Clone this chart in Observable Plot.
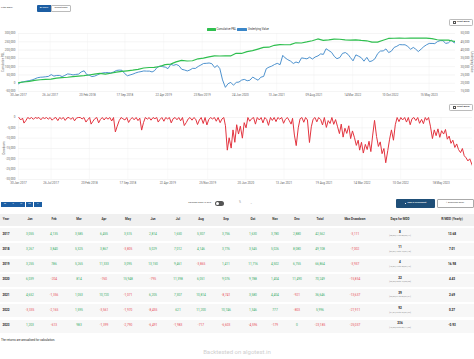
<!DOCTYPE html>
<html><head><meta charset="utf-8">
<script src="https://cdn.jsdelivr.net/npm/d3@7"></script>
<script src="https://cdn.jsdelivr.net/npm/@observablehq/plot@0.6"></script>
<style>
html,body{margin:0;padding:0;background:#fff;}
body{width:474px;height:359px;position:relative;overflow:hidden;font-family:Roboto,"Liberation Sans",sans-serif;color:#333;}
.a{position:absolute;white-space:nowrap;line-height:1;}
.btn{position:absolute;box-sizing:border-box;display:flex;align-items:center;justify-content:center;white-space:nowrap;line-height:1;}
</style></head><body>
<div id="root"></div>
<script>
// ---------- DATA ----------
const years = [2017, 2018, 2019, 2020, 2021, 2022, 2023];
const monthNames = ["Jan","Feb","Mar","Apr","May","Jun","Jul","Aug","Sep","Oct","Nov","Dec"];
const pnl2017 = [3055, 4135, 3585, 6455, 3515, 2814, 1650, 5307, 3756, 1630, 3780, 2880];
const pnl2018 = [3267, 3840, 5325, 3867, -3805, 5029, 7012, 4146, 3776, 3545, 5026, 8080];
const pnl2019 = [3255, 786, 5265, 11333, 3095, 13150, 9461, -3865, 1411, 11716, 4502, 6755];
const pnl2020 = [6039, -204, 814, -760, 15948, -795, 11398, 6051, 9076, 9788, 1404, 11490];
const pnl2021 = [4652, -1356, 1053, 10720, -1071, 6205, 7307, 10814, -8741, 3580, 4404, -921];
const pnl2022 = [-3335, -2165, 1595, -3561, -1970, -8455, 621, 11200, 10746, 1346, 777, -803];
const pnl2023 = [1203, -613, 983, -1399, -2790, -6491, -1983, -717, -6603, -4596, -179, 0];
const yearTotals = [42562, 49108, 66864, 70249, 36646, 5996, -23185];
const maxDrawdowns = [-3111, -7002, -3937, -15854, -13637, -21911, -25037];
const daysForMDD = [8, 11, 4, 22, 39, 92, 236];
const mddRanges = ["[28/02/17 to 08/03/17]","[02/07/18 to 13/07/18]","[16/07/19 to 20/07/19]","[26/02/20 to 19/03/20]","[23/02/21 to 02/04/21]","[21/04/22 to 22/07/22]","[16/03/23 to 06/11/23]"];
const rOverMDD = ["13.68","7.01","16.98","4.43","2.69","0.27","-0.93"];

// Underlying value (Bank Nifty), 1st and 16th of each month from Jan 2017
const underlying = [
18200,18700,19800,20700,20900,21300,21600,22000,22600,23300,23600,23700,23900,24100,25200,24300,24700,24700,24000,24700,25600,25400,25000,25300,
25500,26800,27500,25200,24900,24000,24300,25000,25800,26200,26400,26400,26200,26800,27700,27900,27800,25800,24500,25000,25500,26200,26700,27000,
27400,27300,27300,26800,27500,29500,30400,30000,29700,28800,31400,30800,31300,30600,28400,28000,27400,28000,29000,28900,30100,31000,31900,32000,
32200,31800,29500,30700,28800,22000,17500,19700,20500,18800,20500,20700,21900,22300,21500,21800,23700,22700,21800,23600,24100,28800,29700,30300,
31300,32000,31200,36800,35300,34200,33300,31900,32800,32200,35300,35000,34700,35700,34600,35800,36500,37700,37400,40800,39700,38600,36200,34800,
35500,38000,38500,37400,35500,33500,37100,36300,35400,33300,35600,33000,33500,34700,37900,39400,39500,40700,38500,39300,41600,42300,43300,43200,
43200,42200,40500,41600,40600,39100,40600,42100,43200,44000,44000,43900,45100,45700,45700,44000,44400,46000,44500,44200];

// Drawdown, 1st / 11th / 21st of each month from Feb 2017
const drawdown = [
0,-1200,-300, -2700,-1500,0, -600,0,-900, 0,-400,0, -1100,0,-500, 0,-800,0, -1300,-400,0, -1500,0,-700, 0,-1400,-200, 0,-900,0, -1600,-300,0,
0,-700,0, -2200,-1000,0, -3200,-1800,-600, 0,-2600,-900, 0,-1200,0, -800,0,-1700, 0,-7000,-4200, -1500,0,-600, -1200,0,-2400, -900,0,-1100, 0,-1500,-300, -6100,-2500,0,
-800,0,-1300, 0,-600,0, -2200,-900,0, -1800,0,-700, 0,-2600,-600, 0,-1100,0, -1600,0,-3900, -2400,-700,0, -1300,0,-800, -3400,-1200,0, -2900,0,-3600, -1000,0,-700,
0,-1800,0, -2500,-700,0, -4000,-15800,-9800, -14800,-6000,-12000, -3500,-8000,-4200, -10000,-2500,-5000, 0,-1800,-600, 0,-3200,0, -1200,0,-2600, 0,-900,-3800, 0,-1400,0, -2000,0,-800,
0,-2800,-900, 0,-1500,-3200, -400,-8500,-13600, -5000,-600,0, -2300,0,-1200, -12100,-4500,-800, 0,-2100,0, -1000,-3600,0, -4800,-1500,-2900, 0,-3300,-1000, -4500,-7800,-3200, -9500,-5200,-7700,
-4000,-10200,-6500, -9800,-13500,-11000, -15800,-12000,-17200, -13000,-15500,-11500, -16500,-8500,-1400, -9200,-14000,-11800, -17500,-15000,-21900, -16000,-10500,-6000, -11000,-3500,0, -2000,0,-1200, 0,-2200,0, -3500,-600,0,
-1500,0,-2800, -900,-3000,0, -1300,0,-4200, -10200,-6000,-8800, -5500,-9600,-6400, -8000,-5800,-10500, -9000,-12500,-11000, -14500,-12800,-15500, -17000,-15000,-18500, -19500,-21000,-20000, -22500,-24800,-25000];

const xTickLabelsTop = ["2017-01-30","2017-07-26","2018-02-20","2018-09-17","2019-04-22","2019-11-23","2020-06-24","2021-01-13","2021-08-09","2022-03-14","2022-10-10","2023-05-15"];
const xTickLabelsDD  = ["2017-01-30","2017-07-26","2018-02-20","2018-09-17","2019-04-22","2019-11-25","2020-06-20","2021-01-13","2021-08-19","2022-03-14","2022-10-10","2023-05-18"];
const leftTicks = [-50000, 0, 50000, 100000, 150000, 200000, 250000, 300000];
const rightTicks = [15000, 20000, 25000, 30000, 35000, 40000, 45000, 50000];
const ddTicks = [0, -5000, -10000, -15000, -20000, -25000, -30000];
const weekdayLabels = ["M","T","W","Th","F"];

// ---------- BUILD ----------
const root = document.getElementById("root");
const fmtNum = d => d3.format(",")(d).replace("\u2212", "-");
const fmtDate = d3.utcFormat("%d %b %Y");
const toDate = s => new Date(s + "T00:00:00Z");
const GREEN = "#2fbf4f", BLUE = "#3a86c8", RED = "#e3343f";
const FONT = "Roboto, 'Liberation Sans', sans-serif";

const pnlRows = [pnl2017, pnl2018, pnl2019, pnl2020, pnl2021, pnl2022, pnl2023];
const monthly = [];
pnlRows.forEach((row, yi) => row.forEach((v, m) => monthly.push({date: new Date(Date.UTC(years[yi], m + 1, 0)), v})));
const cum = d3.cumsum(monthly, d => d.v);
const cumData = [{date: new Date(Date.UTC(2017, 0, 1)), value: 0}].concat(monthly.map((d, i) => ({date: d.date, value: cum[i]})));
const undData = underlying.map((v, i) => ({date: new Date(Date.UTC(2017, Math.floor(i / 2), i % 2 ? 16 : 1)), value: v}));
const ddData = drawdown.map((v, i) => ({date: new Date(Date.UTC(2017, 1 + Math.floor(i / 3), [1, 11, 21][i % 3])), value: v}));

function el(tag, css, text, parent) {
  const e = document.createElement(tag);
  e.style.cssText = css;
  if (text != null) e.textContent = text;
  (parent || root).appendChild(e);
  return e;
}
function place(node, left, top) {
  const w = el("div", `position:absolute;left:${left}px;top:${top}px;`);
  w.appendChild(node);
}

const svgStyle = {background: "transparent", fontFamily: FONT, fontSize: "3px", color: "#666", overflow: "visible"};
const xDomTop = [toDate("2017-01-30"), toDate("2023-10-10")];
const xDomDD = [toDate("2017-01-30"), toDate("2023-11-05")];
const topTicks = xTickLabelsTop.map(toDate);
const ddTickDates = xTickLabelsDD.map(toDate);

// Top chart: underlying layer (bottom)
const plotUnd = Plot.plot({
  width: 474, height: 72, marginLeft: 18, marginRight: 19, marginTop: 5, marginBottom: 9,
  style: svgStyle,
  x: {type: "utc", domain: xDomTop, axis: null},
  y: {domain: [15000, 50000], axis: "right", ticks: rightTicks, tickFormat: fmtNum, tickSize: 0, tickPadding: 5, label: null},
  marks: [
    Plot.ruleY(rightTicks, {stroke: "#e6e6e6", strokeWidth: 0.4}),
    Plot.ruleX(topTicks, {stroke: "#f0f0f0", strokeWidth: 0.4}),
    Plot.line(undData, {x: "date", y: "value", stroke: BLUE, strokeWidth: 0.9, clip: true})
  ]
});
place(plotUnd, 0, 28);

// Top chart: cumulative P&L layer (top)
const plotCum = Plot.plot({
  width: 474, height: 72, marginLeft: 18, marginRight: 19, marginTop: 5, marginBottom: 9,
  style: svgStyle,
  x: {type: "utc", domain: xDomTop, ticks: topTicks, tickFormat: fmtDate, tickSize: 0, tickPadding: 2.5, label: null},
  y: {domain: [-50000, 300000], ticks: leftTicks, tickFormat: fmtNum, tickSize: 0, tickPadding: 3, label: null},
  marks: [
    Plot.line(cumData, {x: "date", y: "value", stroke: GREEN, strokeWidth: 1.2, clip: true})
  ]
});
place(plotCum, 0, 28);

// Drawdown chart
const plotDD = Plot.plot({
  width: 474, height: 75, marginLeft: 18, marginRight: 2, marginTop: 5, marginBottom: 8,
  style: svgStyle,
  x: {type: "utc", domain: xDomDD, ticks: ddTickDates, tickFormat: fmtDate, tickSize: 0, tickPadding: 2.5, label: null},
  y: {domain: [-30000, 0], ticks: ddTicks, tickFormat: fmtNum, tickSize: 0, tickPadding: 3, label: null},
  marks: [
    Plot.ruleY(ddTicks, {stroke: "#e6e6e6", strokeWidth: 0.4}),
    Plot.ruleX(ddTickDates, {stroke: "#f0f0f0", strokeWidth: 0.4}),
    Plot.line(ddData, {x: "date", y: "value", stroke: RED, strokeWidth: 1, clip: true})
  ]
});
place(plotDD, 0, 112);

// ---------- HTML chrome ----------
el("div", "left:1px;top:7px;font-size:2.4px;color:#333;", "Filter Days:").className = "a";
const b1 = el("div", "left:37px;top:4.5px;width:14px;height:7px;background:#1c5ea3;color:#fff;font-size:2.4px;border-radius:1px 0 0 1px;", "All Days"); b1.className = "btn";
const b2 = el("div", "left:51px;top:4.5px;width:20px;height:7px;border:0.4px solid #bbb;color:#333;font-size:2.4px;border-radius:0 1px 1px 0;", "Subset Days"); b2.className = "btn";

// legend
el("div", `position:absolute;left:206.5px;top:28px;width:9px;height:3px;background:${GREEN};border-radius:0.5px;`);
el("div", "left:216.5px;top:28px;font-size:2.8px;color:#333;", "Cumulative P&L").className = "a";
el("div", `position:absolute;left:237px;top:28px;width:10px;height:3px;background:${BLUE};border-radius:0.5px;`);
el("div", "left:248px;top:28px;font-size:2.8px;color:#333;", "Underlying Value").className = "a";

// reset zoom buttons
[19, 104].forEach(t => {
  const r = el("div", `left:449px;top:${t}px;width:24px;height:6.5px;border:0.4px solid #bbb;border-radius:1.2px;font-size:2.3px;font-weight:600;color:#333;gap:1px;`);
  r.className = "btn";
  el("span", "display:inline-block;width:1.4px;height:1.4px;border:0.3px solid #555;", null, r);
  el("span", "", "Reset Zoom", r);
});

// rotated axis titles
function rot(text, cx, cy, deg) {
  el("div", `position:absolute;left:${cx}px;top:${cy}px;transform:translate(-50%,-50%) rotate(${deg}deg);font-size:2.8px;color:#666;white-space:nowrap;line-height:1;`, text);
}
rot("Cumulative P&L", 3, 62, -90);
rot("Underlying Value", 471.5, 62, 90);
rot("Drawdown", 3.5, 148, -90);

// controls row
weekdayLabels.forEach((w, i) => {
  const b = el("div", `left:${1 + i * 8.2}px;top:201.5px;width:7.9px;height:5px;background:#1c5ea3;color:#fff;font-size:2.2px;`, w);
  b.className = "btn";
});
el("div", "right:263px;top:202.3px;font-size:2.4px;color:#444;", "Calendar Days in Grid").className = "a";
const tg = el("div", "position:absolute;left:215px;top:201.3px;width:8.5px;height:4.6px;background:#555;border-radius:3px;");
el("div", "position:absolute;left:0.7px;top:0.7px;width:3.2px;height:3.2px;background:#fff;border-radius:50%;", null, tg);
el("div", "left:239px;top:202px;font-size:2.6px;color:#999;", "%").className = "a";
el("div", "left:250px;top:201.6px;font-size:2.8px;color:#999;", "\u2304").className = "a";
const sb = el("div", "left:396px;top:199px;width:39px;height:8.5px;background:#1f4f78;color:#fff;font-size:2.3px;font-weight:600;border-radius:1px;gap:1px;");
sb.className = "btn";
el("span", "display:inline-block;width:1.6px;height:1.4px;background:#fff;border-radius:0.3px;", null, sb);
el("span", "", "Take a Screenshot", sb);
const de = el("div", "left:437px;top:199px;width:36.5px;height:8.5px;border:0.4px solid #aaa;color:#444;font-size:2.3px;border-radius:1px;", "\u2913 Download Excel");
de.className = "btn";

// table
const colCenters = [6, 30, 54, 79, 104, 128, 153, 178, 201, 226, 253, 275, 297, 320, 355, 400, 452];
const headers = ["Year"].concat(monthNames, ["Total", "Max Drawdown", "Days for MDD", "R/MDD (Yearly)"]);
el("div", "position:absolute;left:0;top:214px;width:474px;height:12px;background:#f0f0f0;");
headers.forEach((h, i) => {
  el("div", `position:absolute;left:${colCenters[i]}px;top:220px;transform:translate(-50%,-50%);font-size:3.1px;font-weight:700;color:#333;white-space:nowrap;line-height:1;`, h);
});
const POS = "#3aae6a", NEG = "#e8505b";
function cell(text, cx, cy, css) {
  el("div", `position:absolute;left:${cx}px;top:${cy}px;transform:translate(-50%,-50%);white-space:nowrap;line-height:1;${css}`, text);
}
years.forEach((y, r) => {
  const top = 228 + r * 15.25;
  const cy = top + 6.5;
  el("div", `position:absolute;left:0;top:${top}px;width:474px;height:13px;background:#f7f7f7;`);
  cell(String(y), colCenters[0], cy, "font-size:3.1px;font-weight:700;color:#222;");
  pnlRows[r].forEach((v, m) => cell(fmtNum(v), colCenters[m + 1], cy, `font-size:3.2px;color:${v < 0 ? NEG : POS};`));
  cell(fmtNum(yearTotals[r]), colCenters[13], cy, `font-size:3.2px;color:${yearTotals[r] < 0 ? NEG : POS};`);
  cell(fmtNum(maxDrawdowns[r]), colCenters[14], cy, `font-size:3.2px;color:${NEG};`);
  cell(String(daysForMDD[r]), colCenters[15], cy - 1.6, "font-size:3.1px;font-weight:700;color:#222;");
  cell(mddRanges[r], colCenters[15], cy + 1.8, "font-size:2.1px;color:#888;");
  cell(rOverMDD[r], colCenters[16], cy, "font-size:3.1px;font-weight:700;color:#222;");
});

el("div", "left:1px;top:339.3px;font-size:2.9px;color:#222;", "The returns are annualised for calculation.").className = "a";
cell("Backtested on algotest.in", 237, 352, "font-size:6px;color:#cfcfcf;");
</script>
</body></html>
